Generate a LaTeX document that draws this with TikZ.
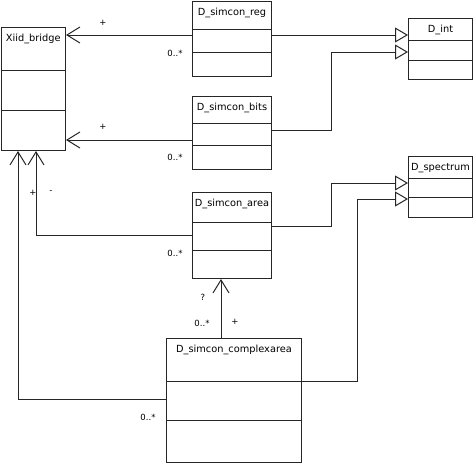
\documentclass[tikz,border=0pt]{standalone}
\usepackage{fontspec}
\setmainfont{DejaVu Sans}
\usetikzlibrary{arrows.meta}

\tikzset{
  classbox/.style={draw=black!85, line width=1pt, fill=white, inner sep=0pt, anchor=north west},
  divline/.style={draw=black!85, line width=1pt},
  assoc/.style={draw=black!85, line width=1pt, -{Straight Barb[length=13pt,width=16pt]}},
  inherit/.style={draw=black!85, line width=1pt, -{Triangle[open,length=13pt,width=15pt]}},
  ctitle/.style={font=\fontsize{9.8}{11}\selectfont, inner sep=0pt},
  mult/.style={font=\fontsize{8.5}{9}\selectfont, inner sep=0pt}
}

% name, title, x, y, width, height, first divider, second divider
\newcommand{\umlclass}[8]{
  \node[classbox, minimum width=#5pt, minimum height=#6pt] (#1) at (#3,#4) {};
  \draw[divline] ([yshift=-#7pt]#1.north west) -- ([yshift=-#7pt]#1.north east);
  \draw[divline] ([yshift=-#8pt]#1.north west) -- ([yshift=-#8pt]#1.north east);
  \node[ctitle] (#1-title) at ([yshift=-12pt]#1.north) {#2};
}

\begin{document}
\begin{tikzpicture}[x=1pt, y=-1pt]
\useasboundingbox (0,0) rectangle (474,463);

% classes
\umlclass{xiid}{Xiid\_bridge}{0.5}{27}{64.5}{123}{43}{83}
\umlclass{reg}{D\_simcon\_reg}{192}{0.5}{79}{75.5}{28.5}{51.5}
\umlclass{bits}{D\_simcon\_bits}{192}{96}{79}{73}{27}{49}
\umlclass{area}{D\_simcon\_area}{192}{192}{79}{86}{30}{58}
\umlclass{complex}{D\_simcon\_complexarea}{166}{338}{135}{124}{43}{82}
\umlclass{dint}{D\_int}{408}{18}{64}{61}{22}{42}
\umlclass{spec}{D\_spectrum}{408}{156}{64}{61}{22}{41}

% associations
\draw[assoc] (reg.west |- 0,35) -- (xiid.east |- 0,35);
\draw[assoc] (bits.west |- 0,140) -- (xiid.east |- 0,140);
\draw[assoc] (area.west |- 0,235) -- (36,235) -- (36,0 |- xiid.south);
\draw[assoc] (complex.west |- 0,399) -- (18,399) -- (18,0 |- xiid.south);
\draw[assoc] (complex.north -| 221,0) -- (area.south -| 221,0);

% generalisations
\draw[inherit] (reg.east |- 0,35) -- (dint.west |- 0,35);
\draw[inherit] (bits.east |- 0,130) -- (331,130) |- (dint.west |- 0,52);
\draw[inherit] (area.east |- 0,226) -- (331,226) |- (spec.west |- 0,183);
\draw[inherit] (complex.east |- 0,381) -- (357,381) |- (spec.west |- 0,199);

% multiplicities
\node[mult] (m-reg-a) at (103,23) {+};
\node[mult] (m-reg-b) at (175,53) {0..*};
\node[mult] (m-bits-a) at (103,127) {+};
\node[mult] (m-bits-b) at (175,157) {0..*};
\node[mult] (m-area-a) at (33,193) {+};
\node[mult] (m-area-b) at (51,192) {-};
\node[mult] (m-area-c) at (175,253) {0..*};
\node[mult] (m-cplx-a) at (203,297) {?};
\node[mult] (m-cplx-b) at (202,323) {0..*};
\node[mult] (m-cplx-c) at (235,322) {+};
\node[mult] (m-cplx-d) at (148,417) {0..*};
\end{tikzpicture}
\end{document}
